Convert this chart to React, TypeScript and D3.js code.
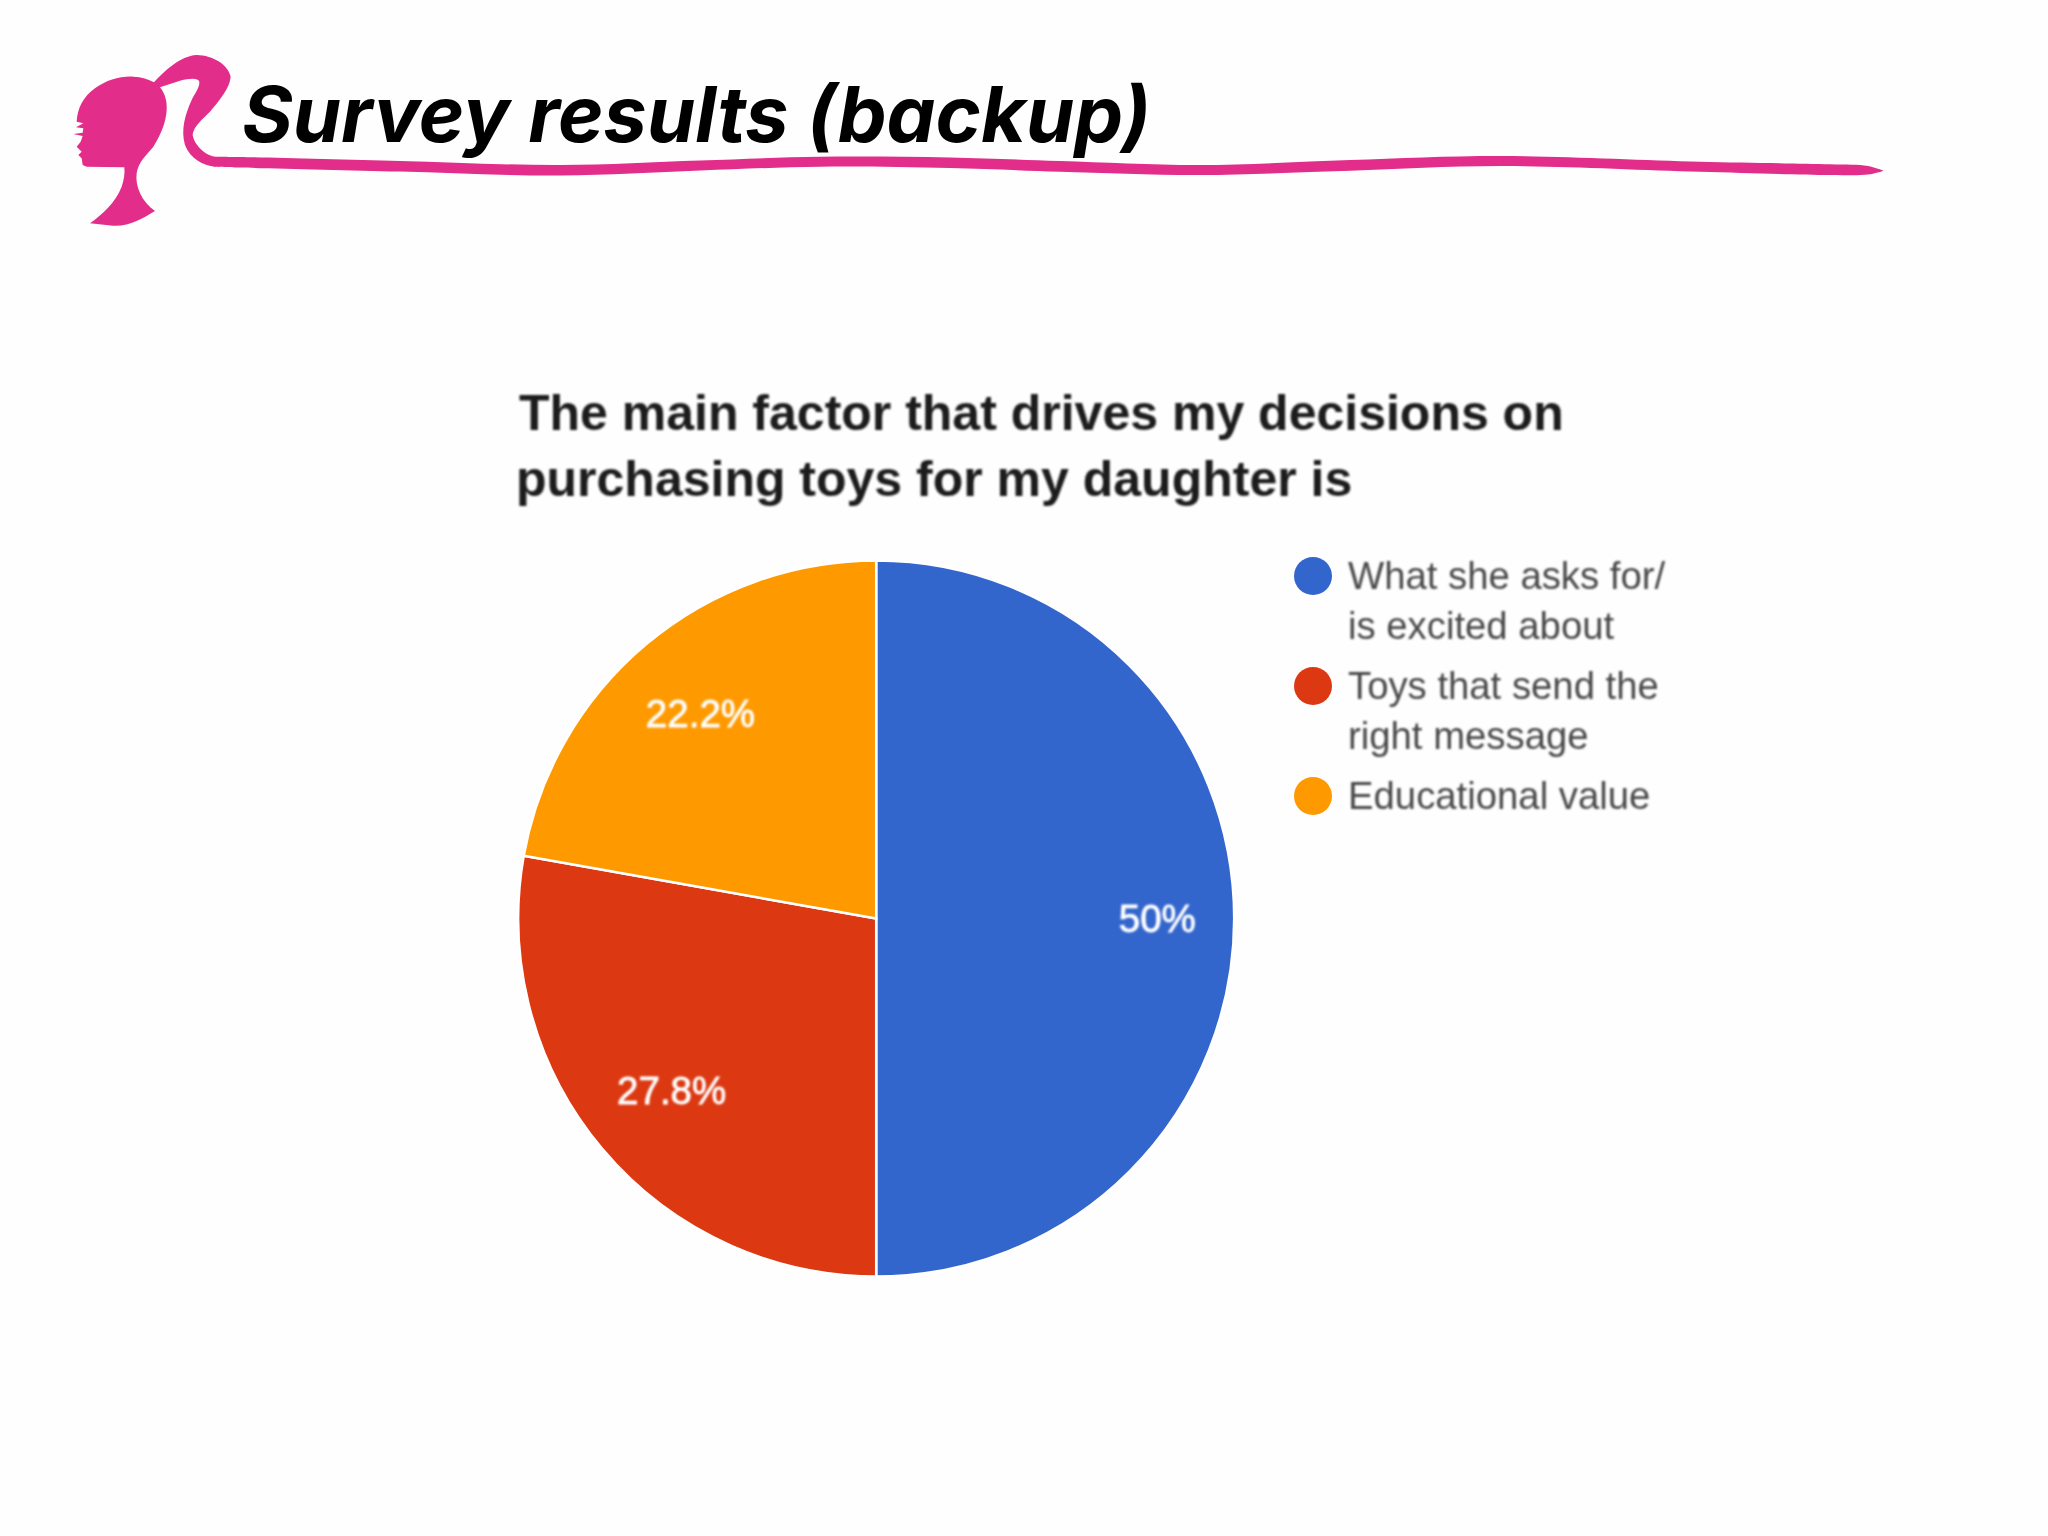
import * as d3 from "d3"

const slideTitle = "Survey results (backup)"
const chartTitle = ["The main factor that drives my decisions on", "purchasing toys for my daughter is"]

const categories = ["What she asks for/ is excited about", "Toys that send the right message", "Educational value"]
const legendLines = [["What she asks for/", "is excited about"], ["Toys that send the", "right message"], ["Educational value"]]
const shares = [50, 27.8, 22.2]
const shareLabels = ["50%", "27.8%", "22.2%"]
const colors = ["#3366cc", "#dc3912", "#ff9900"]

const PINK = "#e22d8a"

// hand traced ribbon under the slide title: x, top edge, bottom edge
const ribbon: [number, number, number][] = [
  [214, 156.7, 166.7], [240, 157, 167.5], [400, 161, 171.5], [560, 165, 175.5], [700, 160.5, 170.5],
  [820, 156.7, 166.7], [950, 157.5, 168], [1060, 161, 171.7], [1200, 165, 175],
  [1350, 160, 170.7], [1500, 156, 166], [1700, 161.7, 171.7], [1830, 164.3, 175],
  [1868, 166, 174.5], [1883, 170.5, 170.9],
]

// silhouette and ponytail, traced in 3x crop coordinates
const HEAD =
  "M110 275 C112 235 130 200 165 175 C200 150 240 138 280 140 C305 141 325 148 342 157 " +
  "C375 122 420 78 470 75 C520 76 565 105 572 140 C570 175 535 215 510 245 C485 270 460 290 458 315 " +
  "C462 340 490 375 525 380 L525 410 C490 408 450 385 435 345 C422 300 435 255 455 210 C465 190 480 170 478 155 " +
  "C474 143 450 145 420 152 L360 172 C375 190 382 215 380 240 C378 275 365 310 340 350 C320 375 295 395 290 430 " +
  "C285 470 305 515 345 543 C310 565 265 590 220 587 L150 580 C190 550 225 520 245 470 C252 450 255 430 253 412 " +
  "L140 410 L128 405 L125 385 L115 375 L125 365 L110 350 L122 335 L128 318 L100 312 L128 308 L130 295 L108 292 L130 280 Z"

const cx = 876.2
const cy = 918.5
const radius = 358

// the source chart does not centre its labels exactly on the slice
const labelNudge = [[9, 0], [4, -3], [-1, 4]]

const pie = d3.pie<number>().sort(null)
const arc = d3.arc<d3.PieArcDatum<number>>().innerRadius(0).outerRadius(radius)
const labelArc = d3.arc<d3.PieArcDatum<number>>().innerRadius(radius * 0.76).outerRadius(radius * 0.76)
const ribbonArea = d3
  .area<[number, number, number]>()
  .x((d) => d[0])
  .y0((d) => d[2])
  .y1((d) => d[1])
  .curve(d3.curveCatmullRom)

const legendY = d3.scalePoint<string>().domain(categories).range([576, 796])

export default function App() {
  const slices = pie(shares)
  return (
    <svg width={2048} height={1536} style={{ position: "fixed", left: 0, top: 0, background: "#fefefe" }}>
      <defs>
        <filter id="soft" x="-5%" y="-5%" width="110%" height="110%">
          <feGaussianBlur stdDeviation="1" />
        </filter>
      </defs>

      <path d={ribbonArea(ribbon) || ""} fill={PINK} />
      <path d={HEAD} fill={PINK} transform="translate(40,30) scale(0.3333)" />
      <text x={242} y={142} fontFamily="Inter" fontWeight={700} fontStyle="italic" fontSize={77.5} fill="#000">
        {slideTitle}
      </text>

      <g fontFamily="Liberation Sans">
        <g filter="url(#soft)" fontWeight={700} fontSize={50} fill="#1c1c1c">
          {chartTitle.map((t, i) => (
            <text key={t} x={i === 0 ? 519 : 516} y={430 + i * 66}>
              {t}
            </text>
          ))}
        </g>

        <g transform={`translate(${cx},${cy})`}>
          {slices.map((d, i) => (
            <path key={i} d={arc(d) || ""} fill={colors[i]} stroke="#fff" strokeWidth={2.5} />
          ))}
          <g filter="url(#soft)" fontSize={38.5} fill="#fff" stroke="#fff" strokeWidth={0.8} textAnchor="middle">
            {slices.map((d, i) => {
              const [x, y] = labelArc.centroid(d)
              return (
                <text key={i} x={x + labelNudge[i][0]} y={y + labelNudge[i][1]} dy="0.35em">
                  {shareLabels[i]}
                </text>
              )
            })}
          </g>
        </g>

        <g>
          {categories.map((c, i) => {
            const y = legendY(c) || 0
            return (
              <g key={c}>
                <circle cx={1313} cy={y} r={19} fill={colors[i]} />
                <g filter="url(#soft)" fontSize={38.3} fill="#484848">
                  {legendLines[i].map((line, j) => (
                    <text key={line} x={1348} y={y + 13 + j * 50}>
                      {line}
                    </text>
                  ))}
                </g>
              </g>
            )
          })}
        </g>
      </g>
    </svg>
  )
}
